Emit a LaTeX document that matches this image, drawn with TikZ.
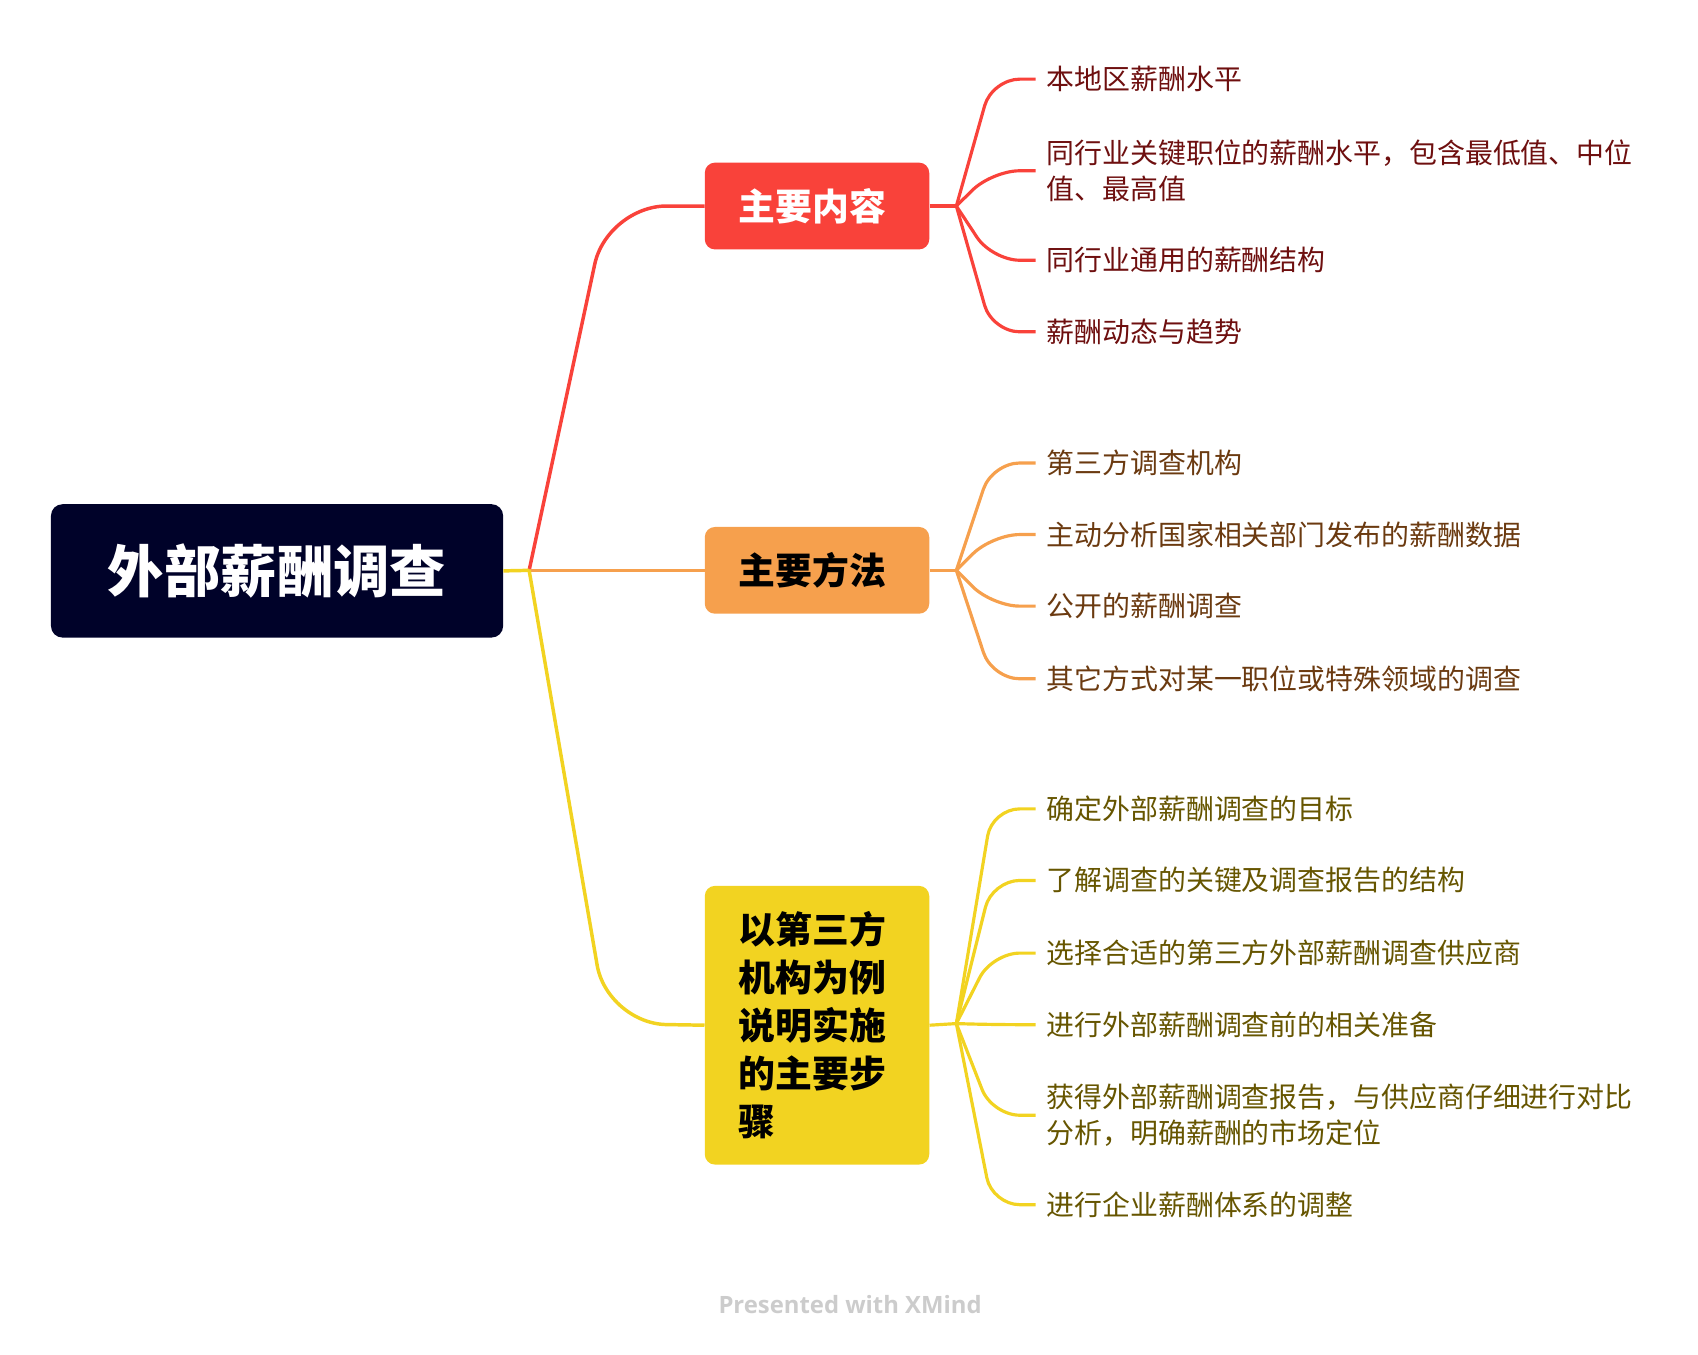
\documentclass[tikz,border=0pt]{standalone}
\usepackage{fontspec}
\setmainfont{Noto Sans CJK SC}
\newfontfamily\wmfont{Open Sans}
\definecolor{rootc}{RGB}{0,2,41}
\definecolor{redc}{RGB}{249,66,58}
\definecolor{orangec}{RGB}{246,160,77}
\definecolor{yellowc}{RGB}{242,211,33}
\definecolor{redtxt}{RGB}{110,15,15}
\definecolor{orangetxt}{RGB}{107,58,16}
\definecolor{yellowtxt}{RGB}{102,85,0}
\definecolor{wmc}{RGB}{204,204,204}
\begin{document}
\begin{tikzpicture}[x=0.75pt,y=-0.75pt,
  rootbox/.style={fill=rootc,rounded corners=8pt,minimum width=312.75pt,minimum height=92.25pt,inner sep=0pt,text=white,font=\fontsize{39}{46}\selectfont\bfseries},
  topicbox/.style={rounded corners=7pt,minimum width=155.25pt,minimum height=60pt,inner sep=0pt,font=\fontsize{25.5}{33.2}\selectfont\bfseries},
  leaf/.style={anchor=west,inner xsep=7.5pt,inner ysep=0pt,align=left,font=\fontsize{19.3}{24.75}\selectfont},
  mainline/.style={line width=2.4pt,rounded corners=41pt},
  leafline/.style={line width=2.2pt,rounded corners=19pt},
]
\useasboundingbox (0,0) rectangle (1566,1249);

% root and topics
\node[rootbox] (root) at (255.5,526.5) {外部薪酬调查};
\node[topicbox,fill=redc,text=white] (t1) at (753.5,190) {主要内容\hspace*{6pt}};
\node[topicbox,fill=orangec,text=black] (t2) at (753.5,526) {主要方法\hspace*{6pt}};
\node[topicbox,fill=yellowc,text=black,minimum height=192.75pt,align=left] (t3) at (753.5,945.5) {以第三方\\机构为例\\说明实施\\的主要步\\骤\hspace*{3em}\hspace*{6pt}};

\coordinate (h0) at (488,526);
\coordinate (h1) at (882,190);
\coordinate (h2) at (882,526);
\coordinate (h3) at (882,944);

% main connectors
\draw[mainline,redc] (h0) -- (560,190) -- (t1.west);
\draw[mainline,orangec] (h0) -- (t2.west);
\draw[mainline,yellowc] (h0) -- (560,944) -- (t3.west);
\draw[line width=2.4pt,yellowc] (root.east) -- (h0);

% leaves: red group
\node[leaf,text=redtxt] (a1) at (955,73) {本地区薪酬水平};
\node[leaf,text=redtxt] (a2) at (955,157.5) {同行业关键职位的薪酬水平，包含最低值、中位\\值、最高值};
\node[leaf,text=redtxt] (a3) at (955,240) {同行业通用的薪酬结构};
\node[leaf,text=redtxt] (a4) at (955,306) {薪酬动态与趋势};
\draw[line width=2.2pt,redc] (t1.east) -- (h1);
\foreach \n in {a1,a2,a3,a4}{
  \draw[leafline,redc] (h1) -- (915,0 |- \n.west) -- (\n.west);
}

% leaves: orange group
\node[leaf,text=orangetxt] (b1) at (955,427) {第三方调查机构};
\node[leaf,text=orangetxt] (b2) at (955,493) {主动分析国家相关部门发布的薪酬数据};
\node[leaf,text=orangetxt] (b3) at (955,559) {公开的薪酬调查};
\node[leaf,text=orangetxt] (b4) at (955,626) {其它方式对某一职位或特殊领域的调查};
\draw[line width=2.2pt,orangec] (t2.east) -- (h2);
\foreach \n in {b1,b2,b3,b4}{
  \draw[leafline,orangec] (h2) -- (915,0 |- \n.west) -- (\n.west);
}

% leaves: yellow group
\node[leaf,text=yellowtxt] (c1) at (955,746) {确定外部薪酬调查的目标};
\node[leaf,text=yellowtxt] (c2) at (955,812) {了解调查的关键及调查报告的结构};
\node[leaf,text=yellowtxt] (c3) at (955,879) {选择合适的第三方外部薪酬调查供应商};
\node[leaf,text=yellowtxt] (c4) at (955,945) {进行外部薪酬调查前的相关准备};
\node[leaf,text=yellowtxt] (c5) at (955,1028.5) {获得外部薪酬调查报告，与供应商仔细进行对比\\分析，明确薪酬的市场定位};
\node[leaf,text=yellowtxt] (c6) at (955,1111) {进行企业薪酬体系的调整};
\draw[line width=2.2pt,yellowc] (t3.east) -- (h3);
\foreach \n in {c1,c2,c3,c4,c5,c6}{
  \draw[leafline,yellowc] (h3) -- (915,0 |- \n.west) -- (\n.west);
}

% watermark
\node[text=wmc,font=\wmfont\fontsize{16.5}{19}\selectfont\bfseries,inner sep=0pt] (wm) at (784,1203) {Presented with XMind};
\end{tikzpicture}
\end{document}
